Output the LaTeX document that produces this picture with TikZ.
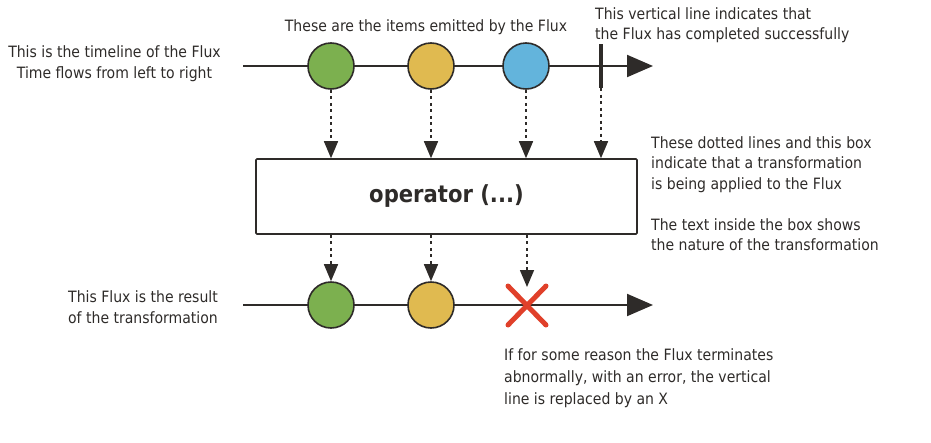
\documentclass[tikz,border=0pt]{standalone}
\usepackage{fontspec}
\setmainfont{DejaVu Sans Condensed}
\usetikzlibrary{arrows.meta,shapes.misc}
\definecolor{ink}{HTML}{2E2B29}
\definecolor{cgreen}{HTML}{7CB04F}
\definecolor{cyellow}{HTML}{E0BA50}
\definecolor{cblue}{HTML}{63B4DC}
\definecolor{cred}{HTML}{E0402A}
\tikzset{
  txt/.style={font=\fontsize{15.6}{20.5}\selectfont, text=ink, inner sep=0pt},
  timeline/.style={draw=ink, line width=2pt, -{Triangle[length=26pt,width=22pt]}},
  item/.style={circle, draw=ink, line width=1.6pt, minimum size=46pt, inner sep=0pt},
  dotarrow/.style={draw=ink, line width=1.6pt, dash pattern=on 3pt off 3.5pt, -{Triangle[length=17pt,width=14pt]}},
  opbox/.style={draw=ink, line width=1.6pt, minimum width=381pt, minimum height=75pt, inner sep=0pt, rounded corners=1pt, font=\fontsize{23.5}{28}\selectfont\bfseries, text=ink},
}
\begin{document}
\begin{tikzpicture}[x=1pt,y=-1pt]
\useasboundingbox (0,0) rectangle (931,442);
% top timeline
\coordinate (t1s) at (243,66);
\coordinate (t1e) at (653,66);
\draw[timeline] (t1s) -- (t1e);
\node[item, fill=cgreen] (a1) at (331,66) {};
\node[item, fill=cyellow] (b1) at (431,66) {};
\node[item, fill=cblue] (c1) at (526,66) {};
\coordinate (endtop) at (601,44);
\coordinate (endbot) at (601,88);
\draw[ink, line width=4pt] (endtop) -- (endbot);
% box
\node[opbox] (op) at (446.5,196.5) {operator (...)};
\draw[dotarrow] (a1.south) -- (a1.south |- op.north);
\draw[dotarrow] (b1.south) -- (b1.south |- op.north);
\draw[dotarrow] (c1.south) -- (c1.south |- op.north);
\draw[dotarrow] (endbot) -- (endbot |- op.north);
% bottom timeline
\coordinate (t2s) at (243,305);
\coordinate (t2e) at (653,305);
\draw[timeline] (t2s) -- (t2e);
\node[item, fill=cgreen] (a2) at (331,305) {};
\node[item, fill=cyellow] (b2) at (431,305) {};
\node[cross out, draw=cred, line width=5pt, line cap=round, minimum width=33pt, minimum height=34pt, inner sep=0pt] (err) at (527,305.5) {};
\draw[dotarrow] (op.south -| a2.north) -- (a2.north);
\draw[dotarrow] (op.south -| b2.north) -- (b2.north);
\draw[dotarrow] (op.south -| err.north) -- ([yshift=-1pt]err.north);
% texts
\node[txt] (l1) at (426,27) {These are the items emitted by the Flux};
\node[txt, anchor=west, align=left] (l2) at (595,25) {This vertical line indicates that\\the Flux has completed successfully};
\node[txt, align=center] (l3) at (114.5,63.5) {This is the timeline of the Flux\\Time flows from left to right};
\node[txt, anchor=north west, align=left] (l4) at (651,136) {These dotted lines and this box\\indicate that a transformation\\is being applied to the Flux\\[\baselineskip]The text inside the box shows\\the nature of the transformation};
\node[txt, align=center] (l5) at (143,307) {This Flux is the result\\of the transformation};
\node[txt, font=\fontsize{15.6}{22}\selectfont, anchor=north west, align=left] (l6) at (504,348) {If for some reason the Flux terminates\\abnormally, with an error, the vertical\\line is replaced by an X};
\end{tikzpicture}
\end{document}
